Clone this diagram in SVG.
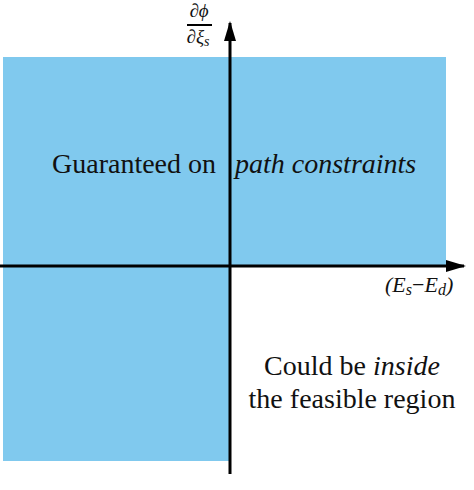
<svg xmlns="http://www.w3.org/2000/svg" width="474" height="490" viewBox="0 0 474 490">
<style>
.t{font-family:"Liberation Serif","Times New Roman",serif;fill:#111;}
.it{font-style:italic;}
.ax{stroke:#000;stroke-width:3;fill:none;}
</style>
<defs>
<marker id="ah" viewBox="0 0 20 12" refX="18" refY="6" markerWidth="20" markerHeight="12" markerUnits="userSpaceOnUse" orient="auto">
<path d="M0,0 L20,6 L0,12 Z" fill="#000"/>
</marker>
</defs>
<rect width="474" height="490" fill="#fff"/>
<g id="region">
<path d="M3,57 H446 V266 H229 V461 H3 Z" fill="#80c9ee"/>
</g>
<g id="connectors">
<line class="ax" x1="0" y1="266" x2="464" y2="266" marker-end="url(#ah)"/>
<line class="ax" x1="230" y1="474" x2="230" y2="23" marker-end="url(#ah)"/>
</g>
<g id="ylabel">
<text class="t it" x="199" y="17" font-size="19" text-anchor="middle">∂ϕ</text>
<line x1="187" y1="25" x2="212" y2="25" stroke="#000" stroke-width="2"/>
<text class="t it" x="198" y="43" font-size="19" text-anchor="middle">∂ξ<tspan font-size="14" dy="3">s</tspan></text>
</g>
<g id="xlabel">
<text class="t it" x="385" y="292" font-size="22">(E<tspan font-size="16" dy="3">s</tspan><tspan dy="-3" font-style="normal">−</tspan>E<tspan font-size="16" dy="3">d</tspan><tspan dy="-3">)</tspan></text>
</g>
<g id="label-top">
<text class="t" x="52" y="173" font-size="28">Guaranteed on <tspan class="it" x="235">path constraints</tspan></text>
</g>
<g id="label-bottom">
<text class="t" x="352" y="375" font-size="28" text-anchor="middle">Could be <tspan class="it">inside</tspan></text>
<text class="t" x="352" y="408" font-size="28" text-anchor="middle">the feasible region</text>
</g>
</svg>
